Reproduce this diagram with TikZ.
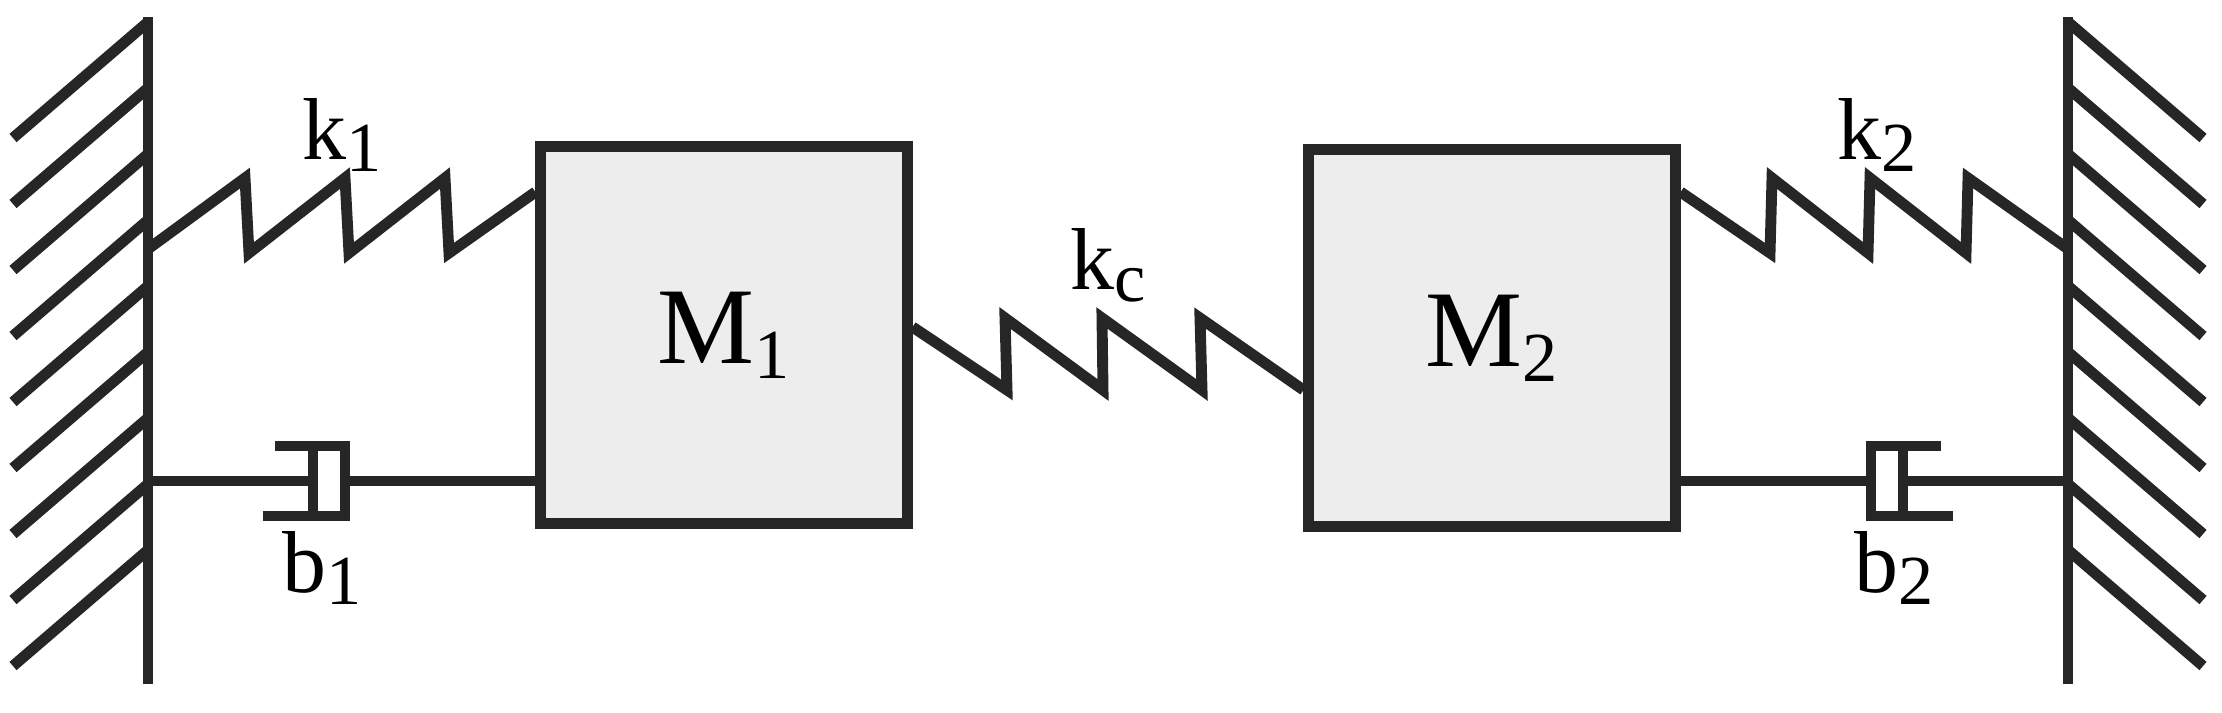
\documentclass[tikz,border=0pt]{standalone}
\usepackage{fontspec}
\setmainfont{Liberation Serif}
\newcommand{\sbs}[1]{\raisebox{-0.3ex}{\fontsize{20}{22}\selectfont #1}}
\begin{document}
\begin{tikzpicture}[x=0.01cm,y=-0.01cm,
  ln/.style={line width=3.1pt,color=black!85,line join=miter},
  mass/.style={ln,fill=black!7,draw=black!85,minimum width=3.66cm,minimum height=3.76cm,inner sep=0},
  lbl/.style={font=\fontsize{25}{27}\selectfont,inner sep=0}]
\useasboundingbox (0,0) rectangle (2222,712);
% walls
\draw[ln] (148,17) coordinate (lw1) -- (148,684) coordinate (lw2);
\draw[ln] (2068,17) coordinate (rw1) -- (2068,684) coordinate (rw2);
\foreach \k in {0,...,8}{
  \draw[ln] (148,{22+66*\k}) -- (13,{138+66*\k});
  \draw[ln] (2068,{22+66*\k}) -- (2203,{138+66*\k});
}
% masses
\node[mass] (M1) at (724,335) {};
\node[mass] (M2) at (1492,338) {};
\node[lbl,font=\fontsize{31}{33}\selectfont] at (M1) {M\sbs{1}};
\node[lbl,font=\fontsize{31}{33}\selectfont] at (M2) {M\sbs{2}};
% springs
\coordinate (a1) at (148,249);
\draw[ln] (a1) -- (245,178) -- (249,253) -- (345,178) -- (349,253) -- (445,178) -- (449,253) -- (M1.west |- 0,192);
\draw[ln] (M1.east |- 0,327) -- (1007,390) -- (1005,318) -- (1103,390) -- (1102,318) -- (1202,390) -- (1200,318) -- (M2.west |- 0,390);
\draw[ln] (M2.east |- 0,192) -- (1770,253) -- (1772,178) -- (1868,253) -- (1870,178) -- (1966,253) -- (1968,178) -- (2068,249);
% dampers
\draw[ln] (148,481) -- (313,481);
\draw[ln] (313,446) rectangle (345,516);
\draw[ln] (275,446) -- (313,446);
\draw[ln] (263,516) -- (313,516);
\draw[ln] (345,481) -- (M1.west |- 0,481);
\draw[ln] (M2.east |- 0,481) -- (1871,481);
\draw[ln] (1871,446) rectangle (1903,516);
\draw[ln] (1903,446) -- (1941,446);
\draw[ln] (1903,516) -- (1953,516);
\draw[ln] (1903,481) -- (2068,481);
% labels
\node[lbl] (k1) at (342,135) {k\sbs{1}};
\node[lbl] (kc) at (1108,265) {k\sbs{c}};
\node[lbl] (k2) at (1877,135) {k\sbs{2}};
\node[lbl] (b1) at (322,568) {b\sbs{1}};
\node[lbl] (b2) at (1894,568) {b\sbs{2}};
\end{tikzpicture}
\end{document}
